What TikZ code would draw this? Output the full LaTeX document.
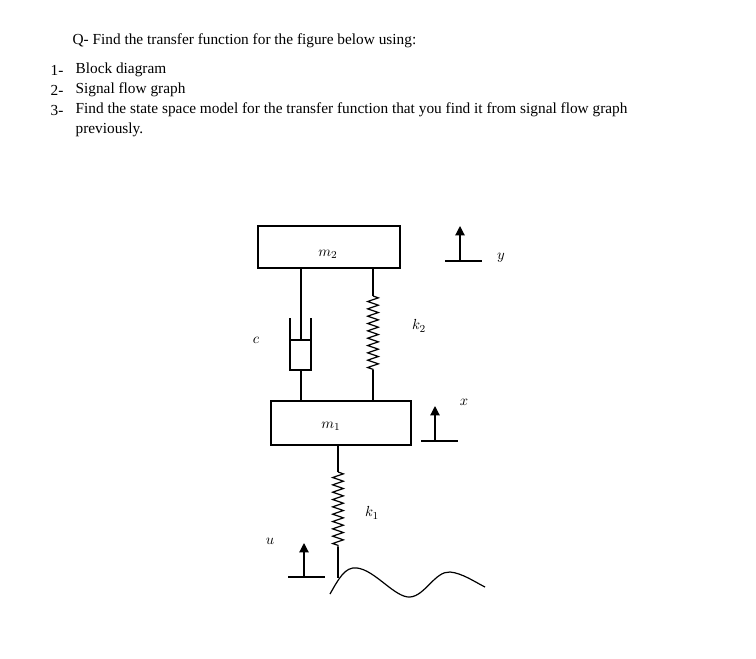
\documentclass[tikz,border=0pt]{standalone}
\usepackage{fontspec}
\setmainfont{Liberation Serif}
\usetikzlibrary{decorations.pathmorphing,arrows.meta}
\begin{document}
\begin{tikzpicture}[x=0.75pt,y=-0.75pt,line width=0.9pt,
  txt/.style={anchor=west,inner sep=0pt,font=\fontsize{11.5}{13}\selectfont},
  lbl/.style={inner sep=0pt,font=\itshape\fontsize{11}{13}\selectfont},
  mass/.style={draw,minimum width=#1,inner sep=0pt},
  spr/.style={decorate,decoration={zigzag,segment length=5.5pt,amplitude=4pt}},
  mv/.style={-{Triangle[length=7pt,width=7pt]}}]
\useasboundingbox (0,0) rectangle (756,658);
\node[txt] (q) at (72,41) {Q- Find the transfer function for the figure below using:};
\node[txt] (n1) at (50,70) {1-};\node[txt] (t1) at (75,70) {Block diagram};
\node[txt] (n2) at (50,90) {2-};\node[txt] (t2) at (75,90) {Signal flow graph};
\node[txt] (n3) at (50,110) {3-};\node[txt] (t3) at (75,110) {Find the state space model for the transfer function that you find it from signal flow graph};
\node[txt] (t4) at (75,130) {previously.};
% masses
\draw (258,226) rectangle (400,268);
\node[lbl] (m2) at (328,254) {$m_2$};
\draw (271,401) rectangle (411,445);
\node[lbl] (m1) at (331,426) {$m_1$};
% damper
\draw (301,268) -- (301,340);
\draw (290,318) -- (290,370) -- (311,370) -- (311,318);
\draw (290,340) -- (311,340);
\draw (301,370) -- (301,401);
\node[lbl] (c) at (256,340) {$c$};
% spring k2
\draw (373,268) -- (373,296);
\draw[spr] (373,296) -- (373,370);
\draw (373,370) -- (373,401);
\node[lbl] (k2) at (419,326) {$k_2$};
% spring k1
\draw (338,445) -- (338,472);
\draw[spr] (338,472) -- (338,547);
\draw (338,547) -- (338,578);
\node[lbl] (k1) at (372,513) {$k_1$};
% motion arrows
\coordinate (ya) at (460,261); \coordinate (yb) at (460,226);
\draw (445,261) -- (482,261); \draw[mv] (ya) -- (yb);
\node[lbl] (y) at (501,258) {$y$};
\coordinate (xa) at (435,441); \coordinate (xb) at (435,406);
\draw (421,441) -- (458,441); \draw[mv] (xa) -- (xb);
\node[lbl] (x) at (464,402) {$x$};
\coordinate (ua) at (304,577); \coordinate (ub) at (304,543);
\draw (288,577) -- (325,577); \draw[mv] (ua) -- (ub);
\node[lbl] (u) at (270,541) {$u$};
% ground
\draw (330,594) .. controls (338,580) and (345,566) .. (357,568)
  .. controls (375,570) and (395,598) .. (410,597)
  .. controls (425,596) and (435,571) .. (450,572)
  .. controls (462,573) and (475,582) .. (485,587);
\end{tikzpicture}
\end{document}
